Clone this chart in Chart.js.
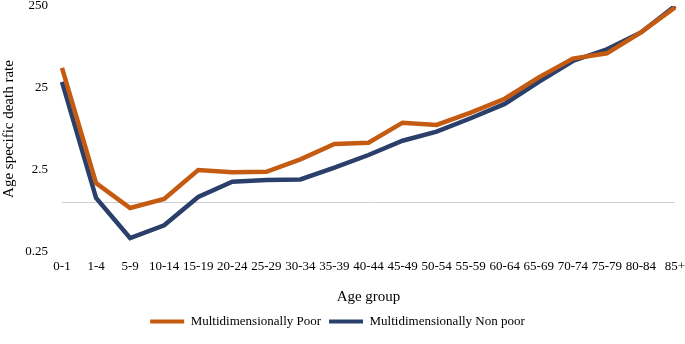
<!DOCTYPE html>
<html>
<head>
<meta charset="utf-8">
<script src="https://cdn.jsdelivr.net/npm/chart.js@4/dist/chart.umd.min.js"></script>
<style>
html,body{margin:0;padding:0;background:#fff;}
#wrap{width:685px;height:344px;position:relative;}
</style>
</head>
<body>
<div id="wrap"><canvas id="c" width="685" height="344"></canvas></div>
<script>
const categories = ['0-1','1-4','5-9','10-14','15-19','20-24','25-29','30-34','35-39','40-44','45-49','50-54','55-59','60-64','65-69','70-74','75-79','80-84','85+'];
const poor = [44, 1.73, 0.86, 1.11, 2.5, 2.34, 2.38, 3.37, 5.19, 5.38, 9.44, 8.85, 12.5, 18.5, 33.7, 57.0, 66.2, 119, 240];
const nonPoor = [29.6, 1.14, 0.37, 0.53, 1.17, 1.80, 1.89, 1.92, 2.67, 3.81, 5.69, 7.33, 10.7, 16.0, 29.8, 53.4, 74.2, 119, 250];
const yTicks = [0.25, 2.5, 25, 250];
const baseLine = 1;

const ORANGE = '#C55A11';
const BLUE = '#2B3F6B';
const FONT = "'Liberation Serif', 'Times New Roman', serif";

new Chart(document.getElementById('c'), {
  type: 'line',
  data: {
    labels: categories,
    datasets: [
      {label: 'Multidimensionally Poor', data: poor, borderColor: ORANGE, backgroundColor: ORANGE, borderWidth: 4.5, pointRadius: 0, tension: 0},
      {label: 'Multidimensionally Non poor', data: nonPoor, borderColor: BLUE, backgroundColor: BLUE, borderWidth: 4.5, pointRadius: 0, tension: 0}
    ]
  },
  options: {
    responsive: false,
    animation: false,
    layout: {padding: {top: 6, right: 10, left: 0, bottom: 6}},
    plugins: {
      tooltip: {enabled: false},
      legend: {
        position: 'bottom',
        labels: {
          color: '#000',
          font: {family: FONT, size: 13},
          boxWidth: 34,
          boxHeight: 4,
          padding: 8,
          generateLabels(chart) {
            return chart.data.datasets.map((ds, i) => ({
              text: ds.label, fillStyle: ds.borderColor, strokeStyle: ds.borderColor,
              lineWidth: 0, hidden: false, datasetIndex: i, fontColor: '#000'
            }));
          }
        }
      }
    },
    scales: {
      x: {
        offset: false,
        grid: {display: false, drawTicks: false},
        border: {display: false},
        ticks: {color: '#000', font: {family: FONT, size: 13}, maxRotation: 0, autoSkip: false, padding: 7},
        title: {display: true, text: 'Age group', color: '#000', font: {family: FONT, size: 15}, padding: {top: 8, bottom: 1}},
        afterFit(scale) { scale.height = 55; scale.paddingLeft = 0; scale.paddingRight = 0; }
      },
      y: {
        type: 'logarithmic',
        min: 0.25,
        max: 250,
        afterBuildTicks(scale) {
          scale.ticks = yTicks.concat([baseLine]).sort((a,b)=>a-b).map(v => ({value: v}));
        },
        grid: {
          drawTicks: false,
          color: ctx => (ctx.tick && ctx.tick.value === baseLine) ? '#D0D0D0' : 'rgba(0,0,0,0)',
          lineWidth: 1
        },
        border: {display: false},
        ticks: {
          color: '#000', font: {family: FONT, size: 13}, padding: 14,
          callback: v => yTicks.includes(v) ? String(v) : ''
        },
        title: {display: true, text: 'Age specific death rate', color: '#000', font: {family: FONT, size: 15}, padding: {top: 0, bottom: 0}},
        afterFit(scale) { scale.width = 62; scale.paddingTop = 0; scale.paddingBottom = 0; }
      }
    }
  }
});
</script>
</body>
</html>
